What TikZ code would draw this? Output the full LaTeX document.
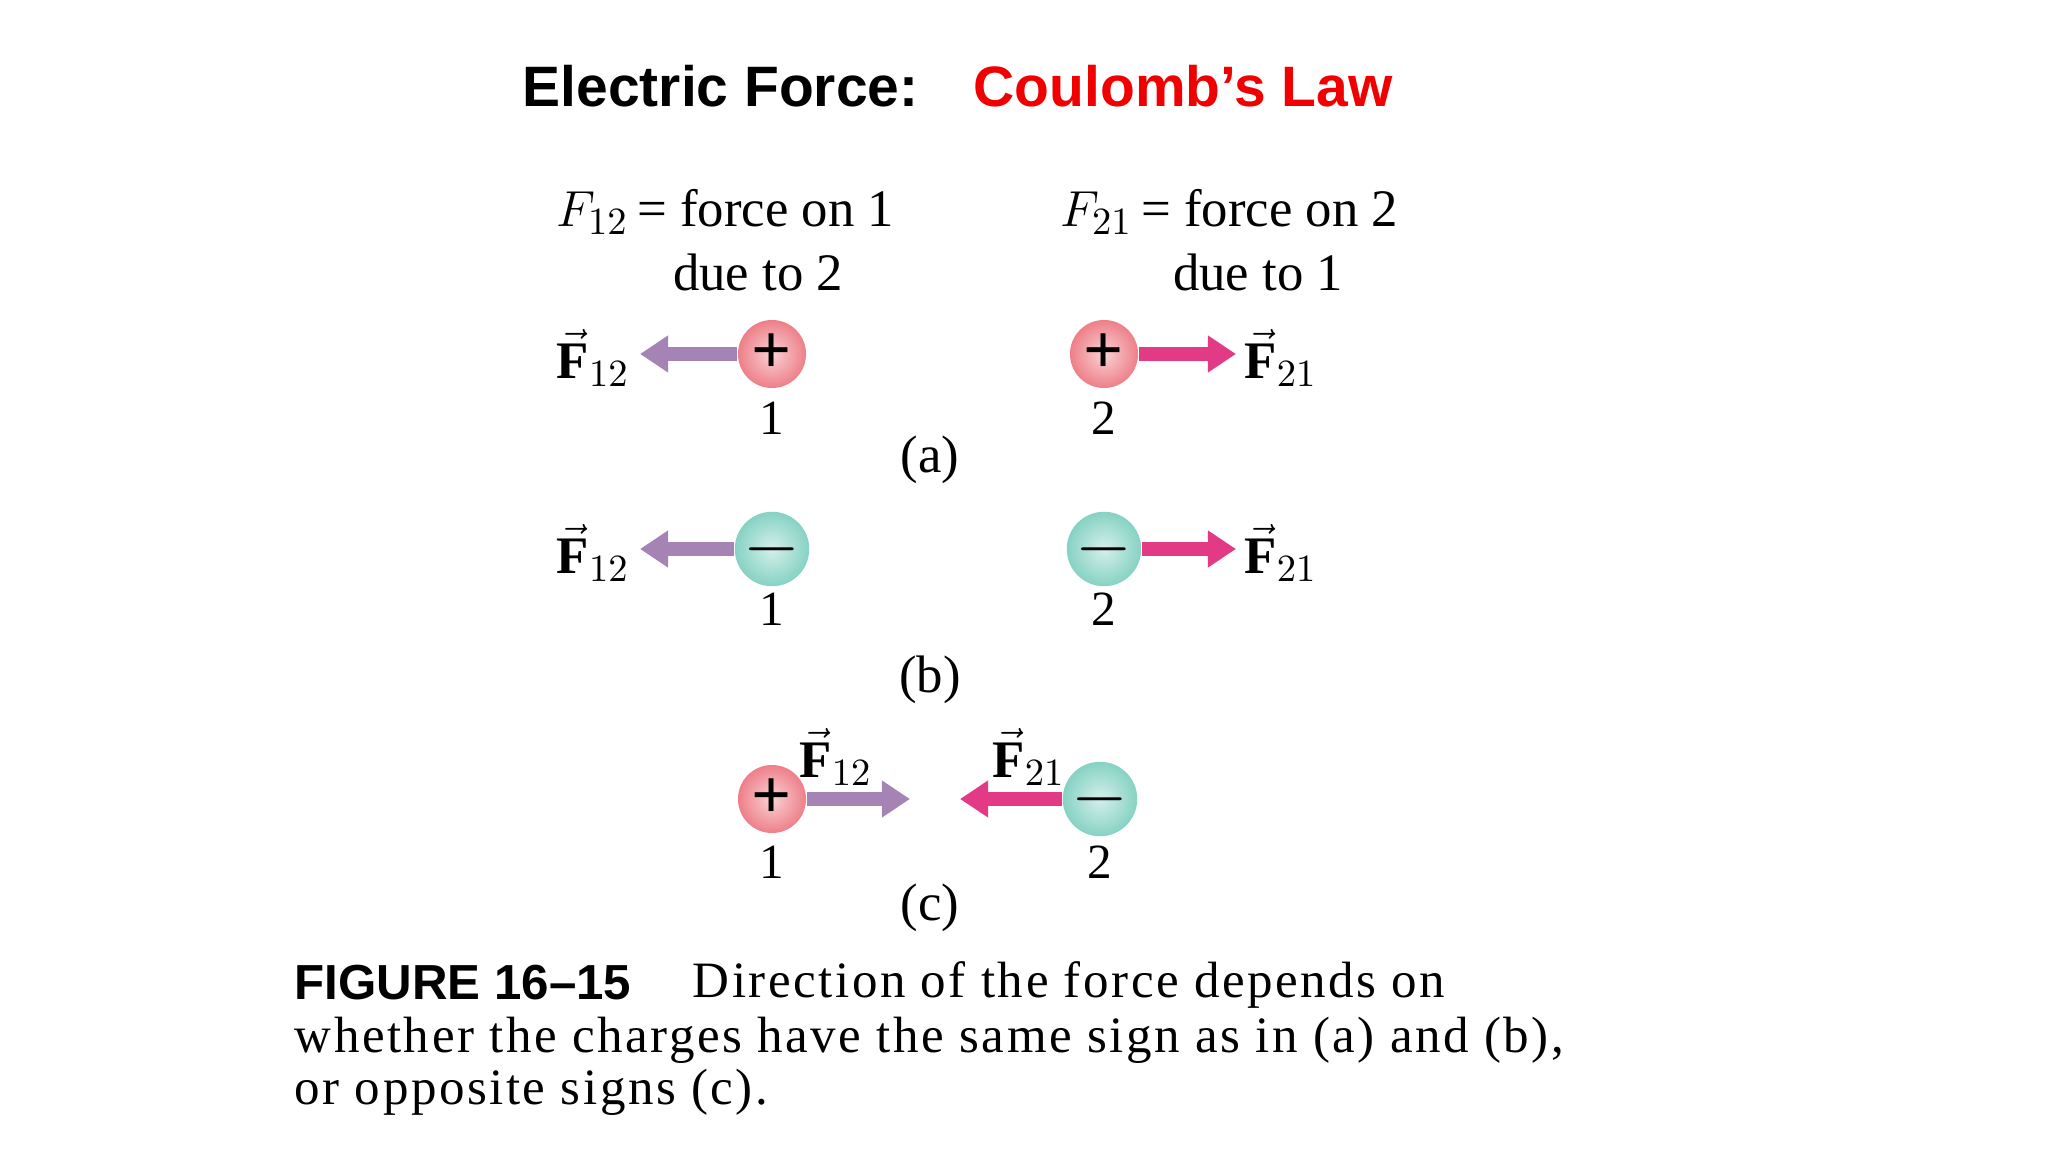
\documentclass[tikz,border=0pt]{standalone}
\usepackage{fontspec}
\setmainfont{Liberation Serif}
\newfontfamily\arialf{Liberation Sans}
\usetikzlibrary{arrows.meta}
\definecolor{tred}{HTML}{F00000}
\definecolor{posc}{HTML}{EE7F88}
\definecolor{negc}{HTML}{86D2C4}
\definecolor{purp}{HTML}{A683B5}
\definecolor{mag}{HTML}{E23A84}
\begin{document}
\begin{tikzpicture}[x=0.01cm,y=-0.01cm,
  posball/.style={circle,minimum size=0.68cm,inner sep=0,inner color=posc!35,outer color=posc,font=\fontsize{20}{20}\selectfont\bfseries},
  negball/.style={circle,minimum size=0.68cm,inner sep=0,inner color=negc!35,outer color=negc,font=\fontsize{20}{20}\selectfont\bfseries},
  lbl/.style={font=\fontsize{15}{15}\selectfont,inner sep=0pt},
  num/.style={font=\fontsize{14}{14}\selectfont,inner sep=0},
  parr/.style={line width=4pt,purp,-{Triangle[length=8pt,width=10pt]}},
  marr/.style={line width=4pt,mag,-{Triangle[length=8pt,width=10pt]}},
  captxt/.style={font=\fontsize{14.5}{14.5}\selectfont,anchor=west,inner sep=0}]
\useasboundingbox (0,0) rectangle (2048,1152);
\fill[white] (0,0) rectangle (2048,1152);
\node[anchor=west,inner sep=0,font=\arialf\bfseries\fontsize{16.2}{16.2}\selectfont] (t1) at (522,86) {Electric Force:};
\node[anchor=west,inner sep=0,text=tred,font=\arialf\bfseries\fontsize{16.2}{16.2}\selectfont] (t2) at (973,86) {Coulomb’s Law};
\node[lbl] (h1) at (725,212) {$F_{12}$\,= force on 1};
\node[lbl] (h2) at (758,272) {due to 2};
\node[lbl] (h3) at (1229,212) {$F_{21}$\,= force on 2};
\node[lbl] (h4) at (1258,272) {due to 1};
% (a)
\node[posball] (a1) at (772,354) {+};
\node[posball] (a2) at (1104,354) {+};
\coordinate (a1e) at (640,354);
\coordinate (a2e) at (1236,354);
\draw[parr] (a1.west) -- (a1e);
\draw[marr] (a2.east) -- (a2e);
\node[lbl,anchor=east] (fa1) at (630,358) {$\vec{\mathbf F}_{12}$};
\node[lbl,anchor=west] (fa2) at (1244,358) {$\vec{\mathbf F}_{21}$};
\node[num] (na1) at (772,418) {1};
\node[num] (na2) at (1104,418) {2};
\node[lbl] (la) at (930,460) {(a)};
% (b)
\node[negball] (b1) at (772,549) {$-$};
\node[negball] (b2) at (1104,549) {$-$};
\coordinate (b1e) at (640,549);
\coordinate (b2e) at (1236,549);
\draw[parr] (b1.west) -- (b1e);
\draw[marr] (b2.east) -- (b2e);
\node[lbl,anchor=east] (fb1) at (630,553) {$\vec{\mathbf F}_{12}$};
\node[lbl,anchor=west] (fb2) at (1244,553) {$\vec{\mathbf F}_{21}$};
\node[num] (nb1) at (772,609) {1};
\node[num] (nb2) at (1104,609) {2};
\node[lbl] (lb) at (930,680) {(b)};
% (c)
\node[posball] (c1) at (772,799) {+};
\node[negball] (c2) at (1100,799) {$-$};
\coordinate (c1e) at (910,799);
\coordinate (c2e) at (960,799);
\draw[parr] (c1.east) -- (c1e);
\draw[marr] (c2.west) -- (c2e);
\node[lbl] (fc1) at (836,757) {$\vec{\mathbf F}_{12}$};
\node[lbl] (fc2) at (1029,757) {$\vec{\mathbf F}_{21}$};
\node[num] (nc1) at (772,862) {1};
\node[num] (nc2) at (1100,862) {2};
\node[lbl] (lc) at (930,908) {(c)};
% caption
\node[captxt,font=\arialf\bfseries\fontsize{14}{14}\selectfont] (fig) at (294,983) {FIGURE 16–15};
\node[captxt] (c1t) at (692,985) {\addfontfeature{LetterSpace=5}Direction of the force depends on};
\node[captxt] (c2t) at (294,1040) {\addfontfeature{LetterSpace=5}whether the charges have the same sign as in (a) and (b),};
\node[captxt] (c3t) at (294,1092) {\addfontfeature{LetterSpace=5}or opposite signs (c).};
\end{tikzpicture}
\end{document}
